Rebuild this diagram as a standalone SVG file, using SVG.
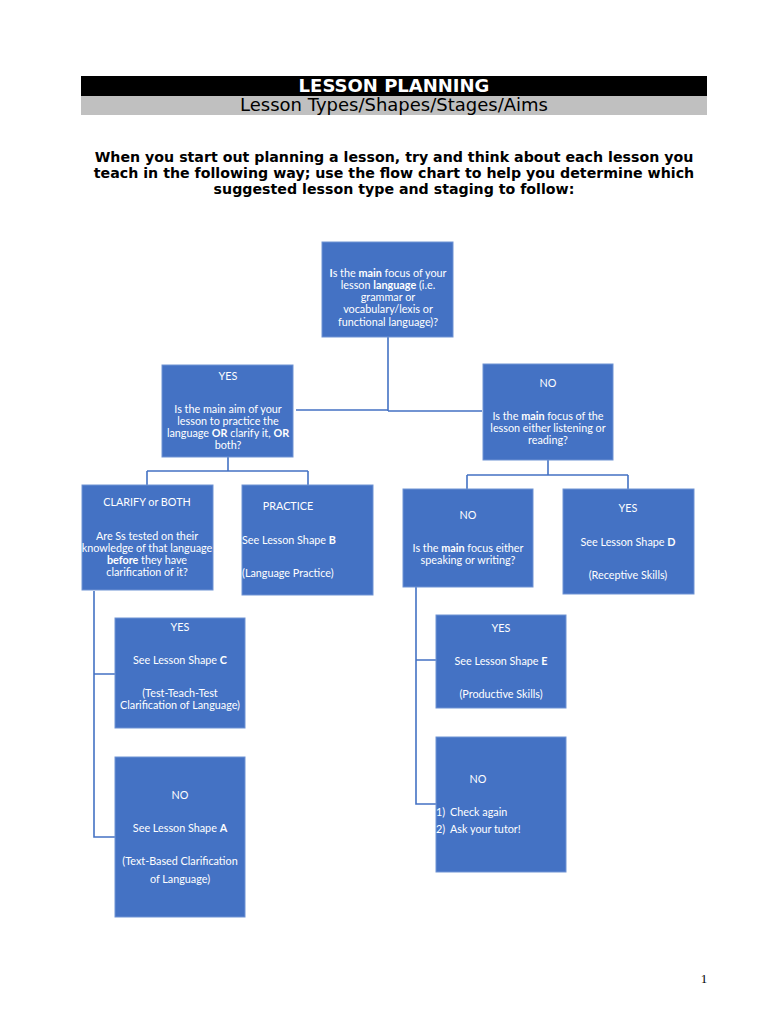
<svg xmlns="http://www.w3.org/2000/svg" width="768" height="1024" viewBox="0 0 768 1024">
<style>
.box{fill:#4472C4;stroke:#6f93d4;stroke-width:1}
.t{font-family:Lato,"Open Sans",sans-serif;font-size:10.8px;fill:#fff;text-anchor:middle}
.l{text-anchor:start}
.b{font-weight:bold}
.conn{stroke:#4472C4;stroke-width:1.6;fill:none}
.hdr{font-family:"DejaVu Sans",sans-serif;text-anchor:middle}
</style>
<rect width="768" height="1024" fill="#fff"/>
<rect x="81" y="76" width="626" height="20" fill="#000"/>
<rect x="81" y="96" width="626" height="19" fill="#c0c0c0"/>
<text class="hdr" x="394" y="92" font-size="18" font-weight="bold" fill="#fff">LESSON PLANNING</text>
<text class="hdr" x="394" y="111" font-size="18" fill="#000">Lesson Types/Shapes/Stages/Aims</text>
<g class="hdr" font-size="14.2" font-weight="bold" fill="#000">
<text x="394" y="162">When you start out planning a lesson, try and think about each lesson you</text>
<text x="394" y="178">teach in the following way; use the flow chart to help you determine which</text>
<text x="394" y="194">suggested lesson type and staging to follow:</text>
</g>
<g id="connectors">
<path class="conn" d="M388 337V411M296 410H388M388 411H482"/>
<path class="conn" d="M228 457V471M147 471H308M147 471V485M308 471V485"/>
<path class="conn" d="M548 460V475M467 475H628M467 475V489M628 475V489"/>
<path class="conn" d="M94 591V837H115M94 674H115"/>
<path class="conn" d="M416 587V804H436M416 660H436"/>
</g>
<g id="q1">
<rect class="box" x="322" y="242" width="131" height="95"/>
<text class="t" x="388" y="277"><tspan class="b">I</tspan>s the <tspan class="b">main</tspan> focus of your</text>
<text class="t" x="388" y="289">lesson <tspan class="b">language</tspan> (i.e.</text>
<text class="t" x="388" y="301">grammar or</text>
<text class="t" x="388" y="313">vocabulary/lexis or</text>
<text class="t" x="388" y="326">functional language)?</text>
</g>
<g id="yes1">
<rect class="box" x="162" y="365" width="131" height="92"/>
<text class="t" x="228" y="380">YES</text>
<text class="t" x="228" y="413">Is the main aim of your</text>
<text class="t" x="228" y="425">lesson to practice the</text>
<text class="t" x="228" y="437">language <tspan class="b">OR</tspan> clarify it, <tspan class="b">OR</tspan></text>
<text class="t" x="228" y="449">both?</text>
</g>
<g id="no1">
<rect class="box" x="483" y="364" width="130" height="96"/>
<text class="t" x="548" y="387">NO</text>
<text class="t" x="548" y="420">Is the <tspan class="b">main</tspan> focus of the</text>
<text class="t" x="548" y="432">lesson either listening or</text>
<text class="t" x="548" y="444">reading?</text>
</g>
<g id="clarify">
<rect class="box" x="82" y="485" width="131" height="105"/>
<text class="t" x="147" y="506">CLARIFY or BOTH</text>
<text class="t" x="147" y="540">Are Ss tested on their</text>
<text class="t" x="147" y="552">knowledge of that language</text>
<text class="t" x="147" y="564"><tspan class="b">before</tspan> they have</text>
<text class="t" x="147" y="576">clarification of it?</text>
</g>
<g id="practice">
<rect class="box" x="242" y="485" width="131" height="110"/>
<text class="t" x="288" y="510">PRACTICE</text>
<text class="t l" x="242" y="544">See Lesson Shape <tspan class="b">B</tspan></text>
<text class="t l" x="242" y="577">(Language Practice)</text>
</g>
<g id="no2">
<rect class="box" x="403" y="489" width="130" height="98"/>
<text class="t" x="468" y="519">NO</text>
<text class="t" x="468" y="552">Is the <tspan class="b">main</tspan> focus either</text>
<text class="t" x="468" y="564">speaking or writing?</text>
</g>
<g id="yesD">
<rect class="box" x="563" y="489" width="131" height="105"/>
<text class="t" x="628" y="512">YES</text>
<text class="t" x="628" y="546">See Lesson Shape <tspan class="b">D</tspan></text>
<text class="t" x="628" y="579">(Receptive Skills)</text>
</g>
<g id="yesC">
<rect class="box" x="115" y="618" width="130" height="110"/>
<text class="t" x="180" y="631">YES</text>
<text class="t" x="180" y="664">See Lesson Shape <tspan class="b">C</tspan></text>
<text class="t" x="180" y="697">(Test-Teach-Test</text>
<text class="t" x="180" y="709">Clarification of Language)</text>
</g>
<g id="noA">
<rect class="box" x="115" y="757" width="130" height="160"/>
<text class="t" x="180" y="799">NO</text>
<text class="t" x="180" y="832">See Lesson Shape <tspan class="b">A</tspan></text>
<text class="t" x="180" y="865">(Text-Based Clarification</text>
<text class="t" x="180" y="883">of Language)</text>
</g>
<g id="yesE">
<rect class="box" x="436" y="615" width="130" height="93"/>
<text class="t" x="501" y="632">YES</text>
<text class="t" x="501" y="665">See Lesson Shape <tspan class="b">E</tspan></text>
<text class="t" x="501" y="698">(Productive Skills)</text>
</g>
<g id="noCheck">
<rect class="box" x="436" y="737" width="130" height="135"/>
<text class="t" x="478" y="783">NO</text>
<text class="t l" x="436" y="816">1)<tspan x="450">Check again</tspan></text>
<text class="t l" x="436" y="833">2)<tspan x="450">Ask your tutor!</tspan></text>
</g>
<text x="704" y="983" font-family="'Liberation Serif',serif" font-size="13" text-anchor="middle" fill="#000">1</text>
</svg>
